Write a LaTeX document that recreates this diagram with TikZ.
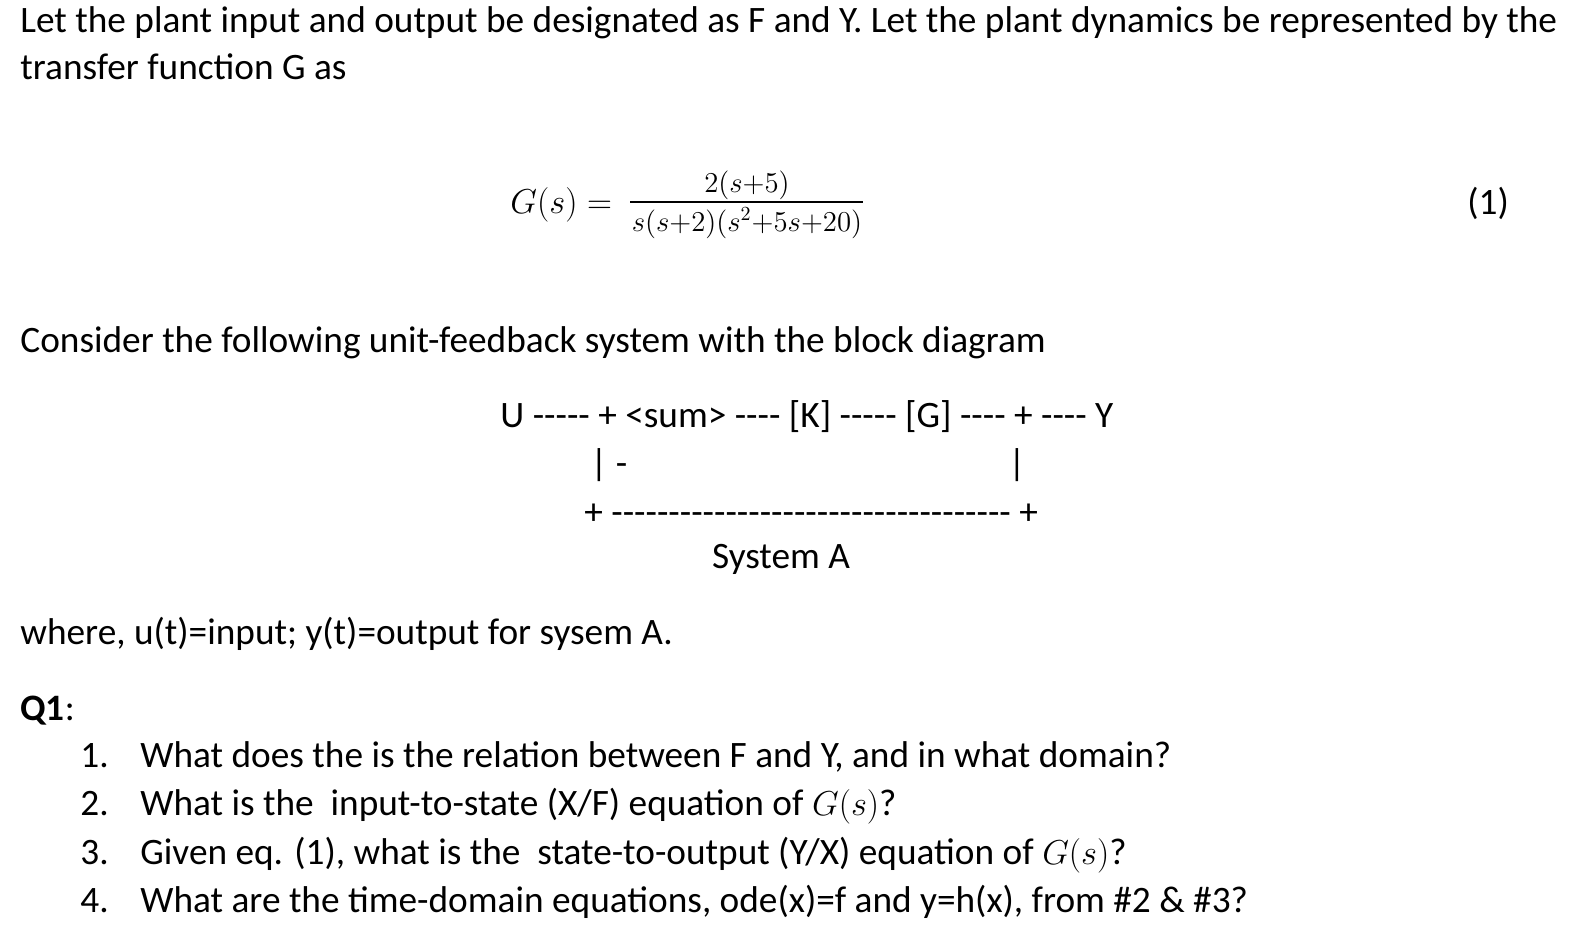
\documentclass[tikz,border=0pt]{standalone}
\usepackage{fontspec}
\setmainfont{Carlito}[Ligatures=TeXOff]
\begin{document}
\begin{tikzpicture}[x=0.5pt,y=-0.5pt,
  t/.style={anchor=base west,inner sep=0pt,font=\fontsize{18.65}{22}\selectfont}]
\useasboundingbox (0,0) rectangle (1581,938);
\node[t] (l1) at (20,32) {Let the plant input and output be designated as F and Y. Let the plant dynamics be represented by the};
\node[t] (l2) at (20,79) {transfer function G as};
\node[t] (gs) at (510,213) {$G(s) =$};
\node[anchor=base,inner sep=0pt,font=\fontsize{14}{16}\selectfont] (num) at (747,192) {$2(s{+}5)$};
\node[anchor=base,inner sep=0pt,font=\fontsize{14}{16}\selectfont] (den) at (747,231) {$s(s{+}2)(s^2{+}5s{+}20)$};
\draw[line width=0.6pt] (630,202) -- (863,202);
\node[t] (eq) at (1467,214) {(1)};
\node[t] (l3) at (20,352) {Consider the following unit-feedback system with the block diagram};
\node[t] (d1) at (500,427) {U ----- + <sum> ---- [K] ----- [G] ---- + ---- Y};
\node[t] (d2) at (590,475) {| -};
\node[t] (d3) at (1008,475) {|};
\node[t] (d4) at (584,524) {+ ----------------------------------- +};
\node[anchor=base,inner sep=0pt,font=\fontsize{18.65}{22}\selectfont] (sa) at (781,568) {System A};
\node[t] (l4) at (20,644) {where, u(t)=input; y(t)=output for sysem A.};
\node[t] (q1) at (20,720) {\textbf{Q1}:};
\foreach \n/\y/\s in {1/767/{What does the is the relation between F and Y, and in what domain?},
  2/815/{What is the\ \ input-to-state (X/F) equation of $G(s)$?},
  3/864/{Given eq. (1), what is the\ \ state-to-output (Y/X) equation of $G(s)$?},
  4/912/{What are the time-domain equations, ode(x)=f and y=h(x), from \#2 \& \#3?}}{
  \node[t] (n\n) at (80,\y) {\n.};
  \node[t] (s\n) at (140,\y) {\s};
}
\end{tikzpicture}
\end{document}
